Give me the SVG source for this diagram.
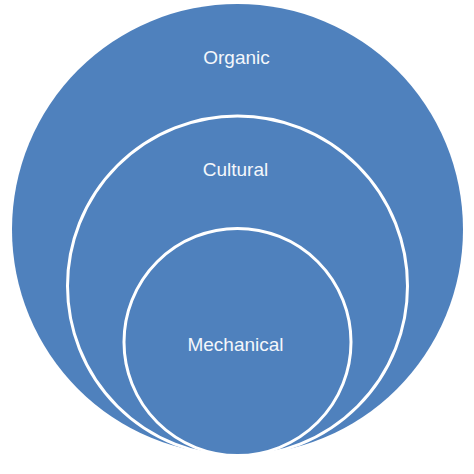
<svg xmlns="http://www.w3.org/2000/svg" width="474" height="474" viewBox="0 0 474 474">
<style>
.c{fill:#4F81BD}
.s{stroke:#FFFFFF;stroke-width:3}
.t{font-family:"Liberation Sans",Arial,sans-serif;font-size:19px;fill:#F4F7FB;text-anchor:middle}
</style>
<rect width="474" height="474" fill="#FFFFFF"/>
<g id="organic">
<circle class="c" cx="237.5" cy="229.5" r="225.5"/>
<text class="t" x="236.5" y="64">Organic</text>
</g>
<g id="cultural">
<circle class="c s" cx="237.5" cy="286" r="170"/>
<text class="t" x="235.5" y="176">Cultural</text>
</g>
<g id="mechanical">
<circle class="c s" cx="237.5" cy="342" r="113.5"/>
<text class="t" x="235.5" y="351">Mechanical</text>
</g>
<g id="connectors"/>
</svg>
